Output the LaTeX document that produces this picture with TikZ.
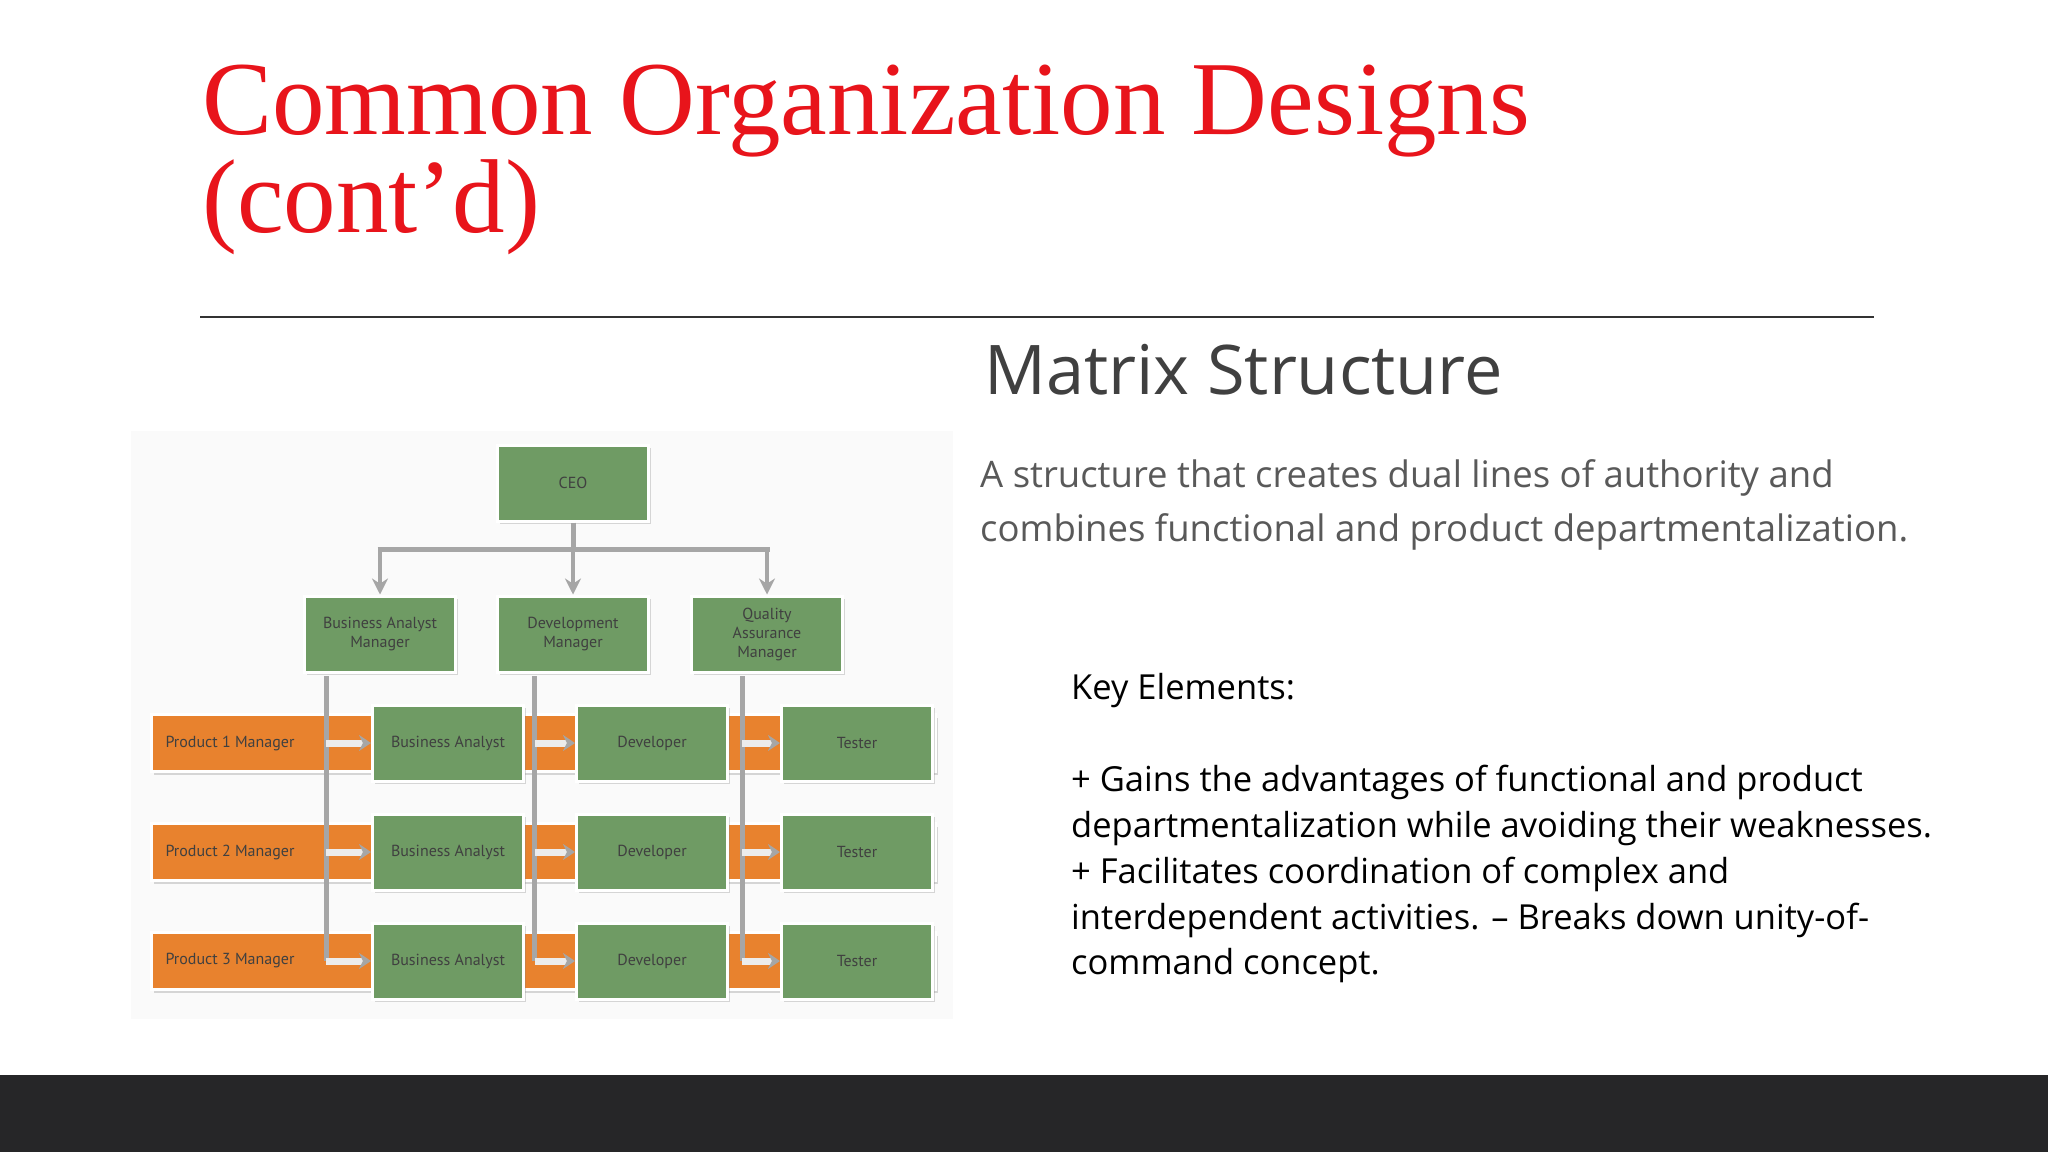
\documentclass[tikz,border=0pt]{standalone}
\usepackage{fontspec}
\setmainfont{Liberation Serif}
\newfontfamily\osans{Open Sans}
\newfontfamily\ptsans{PT Sans}
\usetikzlibrary{arrows.meta,shadows,calc}
\definecolor{titlered}{HTML}{E8141B}
\definecolor{boxgreen}{HTML}{6F9B64}
\definecolor{barorange}{HTML}{E8822E}
\definecolor{darkband}{HTML}{262628}
\definecolor{linegray}{HTML}{A6A6A6}
\tikzset{
  gbox/.style={fill=boxgreen, draw=white, line width=3pt, minimum width=151pt, minimum height=76pt, inner sep=2pt,
    drop shadow={shadow xshift=2pt, shadow yshift=-3pt, opacity=.3},
    font=\ptsans\fontsize{16}{19}\selectfont, text=black!75, align=center},
  obox/.style={fill=barorange, draw=white, line width=3pt, minimum width=784pt, minimum height=57pt, anchor=west,
    drop shadow={shadow xshift=2pt, shadow yshift=-3pt, opacity=.3}},
  olabel/.style={font=\ptsans\fontsize{16}{19}\selectfont, text=black!75, anchor=west},
  conn/.style={draw=linegray, line width=5pt},
  arr/.style={draw=linegray, line width=4pt, -{Stealth[length=16pt,width=16pt]}},
  rowarr/.style={draw=white!85!gray, line width=7pt, -{Stealth[length=12pt,width=16pt,color=linegray]}},
  bodytext/.style={anchor=base west, inner sep=0, text=black, font=\osans\fontsize{34.5}{46}\selectfont},
}
\begin{document}
\begin{tikzpicture}[x=1pt,y=-1pt]
\useasboundingbox (0,0) rectangle (2048,1152);
\fill[white] (0,0) rectangle (2048,1152);
\fill[darkband] (0,1075) rectangle (2048,1152);
% title
\node[anchor=base west, inner sep=0, text=titlered, font=\fontsize{105}{100}\selectfont] (t1) at (202,134) {Common Organization Designs};
\node[anchor=base west, inner sep=0, text=titlered, font=\fontsize{105}{100}\selectfont] (t2) at (202,232) {(cont’d)};
\draw[black!80, line width=1.5pt] (200,317) -- (1874,317);
% right text
\node[anchor=base west, inner sep=0, text=black!75, font=\osans\fontsize{68.5}{80}\selectfont] (ms) at (984,394) {Matrix Structure};
\node[anchor=base west, inner sep=0, text=black!65, font=\osans\fontsize{36.5}{54}\selectfont] (d1) at (980,487)
  {A structure that creates dual lines of authority and};
\node[anchor=base west, inner sep=0, text=black!65, font=\osans\fontsize{36.5}{54}\selectfont] (d2) at (980,541)
  {combines functional and product departmentalization.};
\node[bodytext] (key) at (1071,699) {Key Elements:};
\node[bodytext] (i1) at (1071,791) {+ Gains the advantages of functional and product};
\node[bodytext] (i2) at (1071,837) {departmentalization while avoiding their weaknesses.};
\node[bodytext] (i3) at (1071,883) {+ Facilitates coordination of complex and};
\node[bodytext] (i4) at (1071,929) {interdependent activities. – Breaks down unity-of-};
\node[bodytext] (i5) at (1071,974) {command concept.};
% chart background
\fill[black!2] (131,431) rectangle (953,1019);
% CEO and managers
\node[gbox] (ceo) at (573,483) {CEO};
\node[gbox] (bam) at (380,634) {Business Analyst\\Manager};
\node[gbox] (dm) at (573,634) {Development\\Manager};
\node[gbox] (qam) at (767,634) {Quality\\Assurance\\Manager};
\coordinate (hb) at (573,549);
\draw[conn] (ceo.south) -- (hb);
\draw[conn] ($(bam.north |- hb)+(-2.5,0)$) -- ($(qam.north |- hb)+(2.5,0)$);
\draw[arr] (bam.north |- hb) -- (bam.north);
\draw[arr] (hb) -- (dm.north);
\draw[arr] (qam.north |- hb) -- (qam.north);
% orange bars
\foreach \r/\y in {1/743,2/852,3/961}{
  \node[obox] (p\r) at (150,\y) {};
  \node[olabel] (pl\r) at (162,\y) {Product \r\ Manager};
}
% vertical lines behind boxes
\coordinate (v1) at (326,676);
\coordinate (v2) at (534,676);
\coordinate (v3) at (742,676);
\draw[conn] (v1) -- (326,961);
\draw[conn] (v2) -- (534,961);
\draw[conn] (v3) -- (742,961);
% worker boxes
\foreach \r/\y in {1/743,2/852,3/961}{
  \node[gbox] (ba\r) at (448,\y) {Business Analyst};
  \node[gbox] (dv\r) at (652,\y) {Developer};
  \node[gbox] (ts\r) at (857,\y) {Tester};
  \coordinate (a\r) at ($(ba\r.west)+(-45,0)$);
  \coordinate (b\r) at ($(dv\r.west)+(-40,0)$);
  \coordinate (c\r) at ($(ts\r.west)+(-38,0)$);
  \draw[rowarr] (a\r) -- (ba\r.west);
  \draw[rowarr] (b\r) -- (dv\r.west);
  \draw[rowarr] (c\r) -- (ts\r.west);
}
\end{tikzpicture}
\end{document}
